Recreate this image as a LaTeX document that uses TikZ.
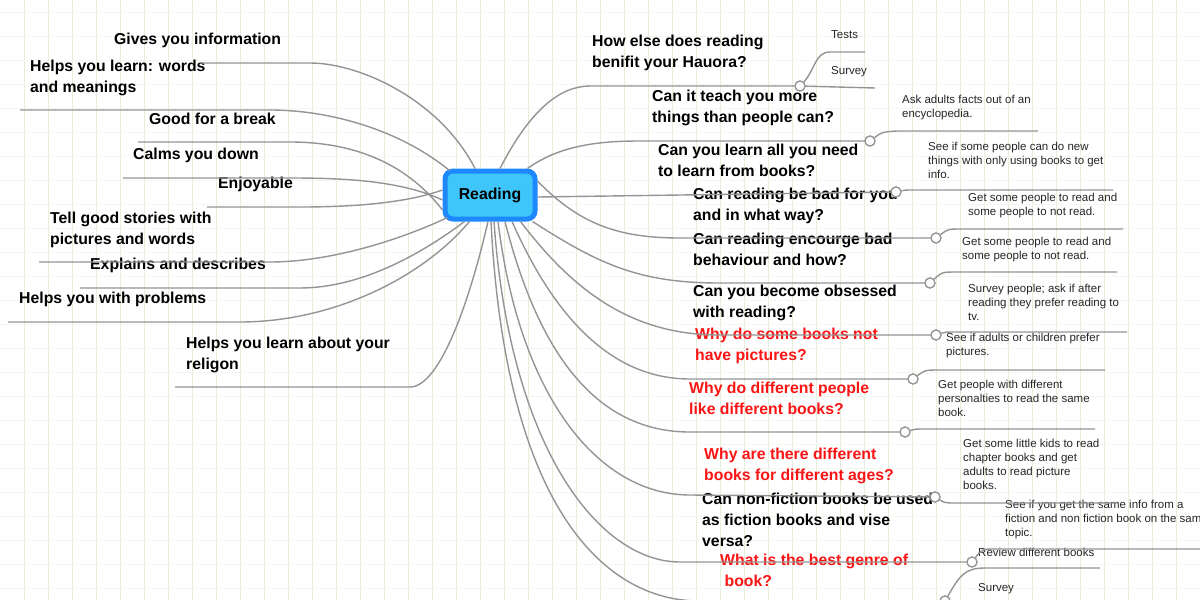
\documentclass[tikz,border=0pt]{standalone}
\usepackage{fontspec}
\setmainfont{Liberation Sans}
\begin{document}
\begin{tikzpicture}[x=1pt,y=-1pt,
  con/.style={draw=black!42,line width=1.4pt},
  knob/.style={circle,draw=black!42,line width=1.2pt,fill=white,minimum size=10pt,inner sep=0pt},
  lab/.style={anchor=west,align=left,inner sep=0pt,font=\fontsize{15.8}{21}\selectfont\bfseries},
  red lab/.style={lab,text={rgb,255:red,250;green,20;blue,20}},
  small/.style={anchor=west,align=left,inner sep=0pt,font=\fontsize{11.5}{14}\selectfont,text=black!85}]
\useasboundingbox (0,0) rectangle (1200,600);
\clip (0,0) rectangle (1200,600);
\fill[white] (0,0) rectangle (1200,600);
\draw[draw={rgb,255:red,228;green,238;blue,218},line width=0.8pt] (16,0) grid[xstep=24,ystep=24] (1200,600);
\foreach \y in {12,36,...,600} \draw[draw={rgb,255:red,244;green,247;blue,240},line width=0.6pt] (0,\y) -- (1200,\y);
% central node
\node[draw={rgb,255:red,30;green,136;blue,255},line width=5pt,fill={rgb,255:red,62;green,197;blue,250},rounded corners=8pt,minimum width=90pt,minimum height=48pt,font=\fontsize{15.8}{18}\selectfont\bfseries] (R) at (490,195) {Reading};
% left labels
\node[lab] (l1) at (114,40) {Gives you information};
\node[lab] (l2) at (30,78) {Helps you learn: words\\and meanings};
\node[lab] (l3) at (149,119) {Good for a break};
\node[lab] (l4) at (133,155) {Calms you down};
\node[lab] (l5) at (218,184) {Enjoyable};
\node[lab] (l6) at (50,229.5) {Tell good stories with\\pictures and words};
\node[lab] (l7) at (90,265) {Explains and describes};
\node[lab] (l8) at (19,299) {Helps you with problems};
\node[lab] (l9) at (186,354.5) {Helps you learn about your\\religon};
\coordinate (e1) at (200,63); \coordinate (e2) at (20,110); \coordinate (e3) at (138,142);
\coordinate (e4) at (123,178); \coordinate (e5) at (207,207); \coordinate (e6) at (39,262);
\coordinate (e7) at (80,288); \coordinate (e8) at (8,322); \coordinate (e9) at (175,387);
\draw[con] ([xshift=-15pt]R.north) .. controls (440,100) and (360,63) .. (310,63) -- (e1);
\draw[con] ([shift={(7,2)}]R.north west) .. controls (400,130) and (330,110) .. (270,110) -- (e2);
\draw[con] ([yshift=-15pt]R.west) .. controls (400,155) and (340,142) .. (290,142) -- (e3);
\draw[con] ([yshift=-5pt]R.west) .. controls (400,180) and (340,178) .. (290,178) -- (e4);
\draw[con] ([yshift=5pt]R.west) .. controls (400,205) and (340,207) .. (300,207) -- (e5);
\draw[con] ([shift={(5,-4)}]R.south west) .. controls (400,240) and (330,262) .. (270,262) -- (e6);
\draw[con] ([shift={(22,0)}]R.south west) .. controls (420,255) and (360,288) .. (300,288) -- (e7);
\draw[con] ([shift={(27,0)}]R.south west) .. controls (420,280) and (330,322) .. (240,322) -- (e8);
\draw[con] ([xshift=-2pt]R.south) .. controls (470,300) and (440,387) .. (410,387) -- (e9);
% right labels
\node[lab] (q1) at (592,53) {How else does reading\\benifit your Hauora?};
\node[lab] (q2) at (652,108) {Can it teach you more\\things than people can?};
\node[lab] (q3) at (658,160.5) {Can you learn all you need\\to learn from books?};
\node[lab] (q4) at (693,205.5) {Can reading be bad for you\\and in what way?};
\node[lab] (q5) at (693,249.5) {Can reading encourge bad\\behaviour and how?};
\node[lab] (q6) at (693,302.5) {Can you become obsessed\\with reading?};
\node[red lab] (q7) at (695,346) {Why do some books not\\have pictures?};
\node[red lab] (q8) at (689,398.5) {Why do different people\\like different books?};
\node[red lab] (q9) at (704,465.5) {Why are there different\\books for different ages?};
\node[lab] (q10) at (702,520) {Can non-fiction books be used\\as fiction books and vise\\versa?};
\node[red lab] (q11) at (720,570.5) {What is the best genre of\\\ book?};
% small texts
\node[small] (s1) at (831,35) {Tests};
\node[small] (s2) at (831,72) {Survey};
\node[small] (s3) at (902,108) {Ask adults facts out of an\\encyclopedia.};
\node[small] (s4) at (928,160.5) {See if some people can do new\\things with only using books to get\\info.};
\node[small] (s5) at (968,206) {Get some people to read and\\some people to not read.};
\node[small] (s6) at (962,249.5) {Get some people to read and\\some people to not read.};
\node[small] (s7) at (968,302) {Survey people; ask if after\\reading they prefer reading to\\tv.};
\node[small] (s8) at (946,346) {See if adults or children prefer\\pictures.};
\node[small] (s9) at (938,398) {Get people with different\\personalties to read the same\\book.};
\node[small] (s10) at (963,464.5) {Get some little kids to read\\chapter books and get\\adults to read picture\\books.};
\node[small] (s11) at (1005,520) {See if you get the same info from a\\fiction and non fiction book on the same\\topic.};
\node[small] (s12) at (978,552) {Review different books};
\node[small] (s13) at (978,589) {Survey};
% knobs
\node[knob] (c1) at (800,86) {};
\node[knob] (c2) at (870,141) {};
\node[knob] (c3) at (896,192) {};
\node[knob] (c4) at (936,238) {};
\node[knob] (c5) at (930,283) {};
\node[knob] (c6) at (936,335) {};
\node[knob] (c7) at (913,379) {};
\node[knob] (c8) at (905,432) {};
\node[knob] (c9) at (935,497) {};
\node[knob] (c10) at (972,562) {};
\node[knob] (c11) at (945,601) {};
\draw[con] ([xshift=10pt]R.north) .. controls (530,110) and (560,86) .. (590,86) -- (c1);
\draw[con] ([xshift=-10pt]R.north east) .. controls (560,145) and (600,141) .. (640,141) -- (c2);
\draw[con] ([yshift=-2pt]R.east) -- (c3);
\draw[con] ([yshift=14pt]R.east) .. controls (580,225) and (620,238) .. (680,238) -- (c4);
\draw[con] ([xshift=-5pt]R.south east) .. controls (600,265) and (640,283) .. (720,283) -- (c5);
\draw[con] ([xshift=-17pt]R.south east) .. controls (580,300) and (640,335) .. (720,335) -- (c6);
\draw[con] ([xshift=22pt]R.south) .. controls (560,330) and (620,379) .. (690,379) -- (c7);
\draw[con] ([xshift=15pt]R.south) .. controls (540,360) and (600,432) .. (690,432) -- (c8);
\draw[con] ([xshift=8pt]R.south) .. controls (520,400) and (600,495) .. (690,495) -- (c9);
\draw[con] ([xshift=4pt]R.south) .. controls (510,450) and (600,562) .. (680,562) -- (c10);
\draw[con] ([xshift=1pt]R.south) .. controls (505,500) and (600,601) .. (700,601) -- (c11);
% children
\coordinate (t1) at (865,52); \coordinate (t2) at (875,88); \coordinate (t3) at (1038,131);
\coordinate (t4) at (1113,190); \coordinate (t5) at (1123,229); \coordinate (t6) at (1117,272);
\coordinate (t7) at (1127,332); \coordinate (t8) at (1105,370); \coordinate (t9) at (1095,429);
\coordinate (t10) at (1117,503); \coordinate (t11) at (1200,549); \coordinate (t12) at (1100,568);
\draw[con] (c1) .. controls (815,70) and (815,52) .. (830,52) -- (t1);
\draw[con] (c1) -- (t2);
\draw[con] (c2) .. controls (882,132) .. (897,131) -- (t3);
\draw[con] (c3) .. controls (905,190) .. (915,190) -- (t4);
\draw[con] (c4) .. controls (948,229) .. (962,229) -- (t5);
\draw[con] (c5) .. controls (942,272) .. (957,272) -- (t6);
\draw[con] (c6) .. controls (945,332) .. (960,332) -- (t7);
\draw[con] (c7) .. controls (925,370) .. (940,370) -- (t8);
\draw[con] (c8) .. controls (915,429) .. (928,429) -- (t9);
\draw[con] (c9) .. controls (945,503) .. (957,503) -- (t10);
\draw[con] (c10) .. controls (982,549) .. (997,549) -- (t11);
\draw[con] (c11) .. controls (960,575) and (965,568) .. (985,568) -- (t12);
% knobs on top
\foreach \k in {c1,c2,c3,c4,c5,c6,c7,c8,c9,c10,c11}
  \draw[draw=black!42,line width=1.2pt,fill=white] (\k) circle (5pt);
\end{tikzpicture}
\end{document}
